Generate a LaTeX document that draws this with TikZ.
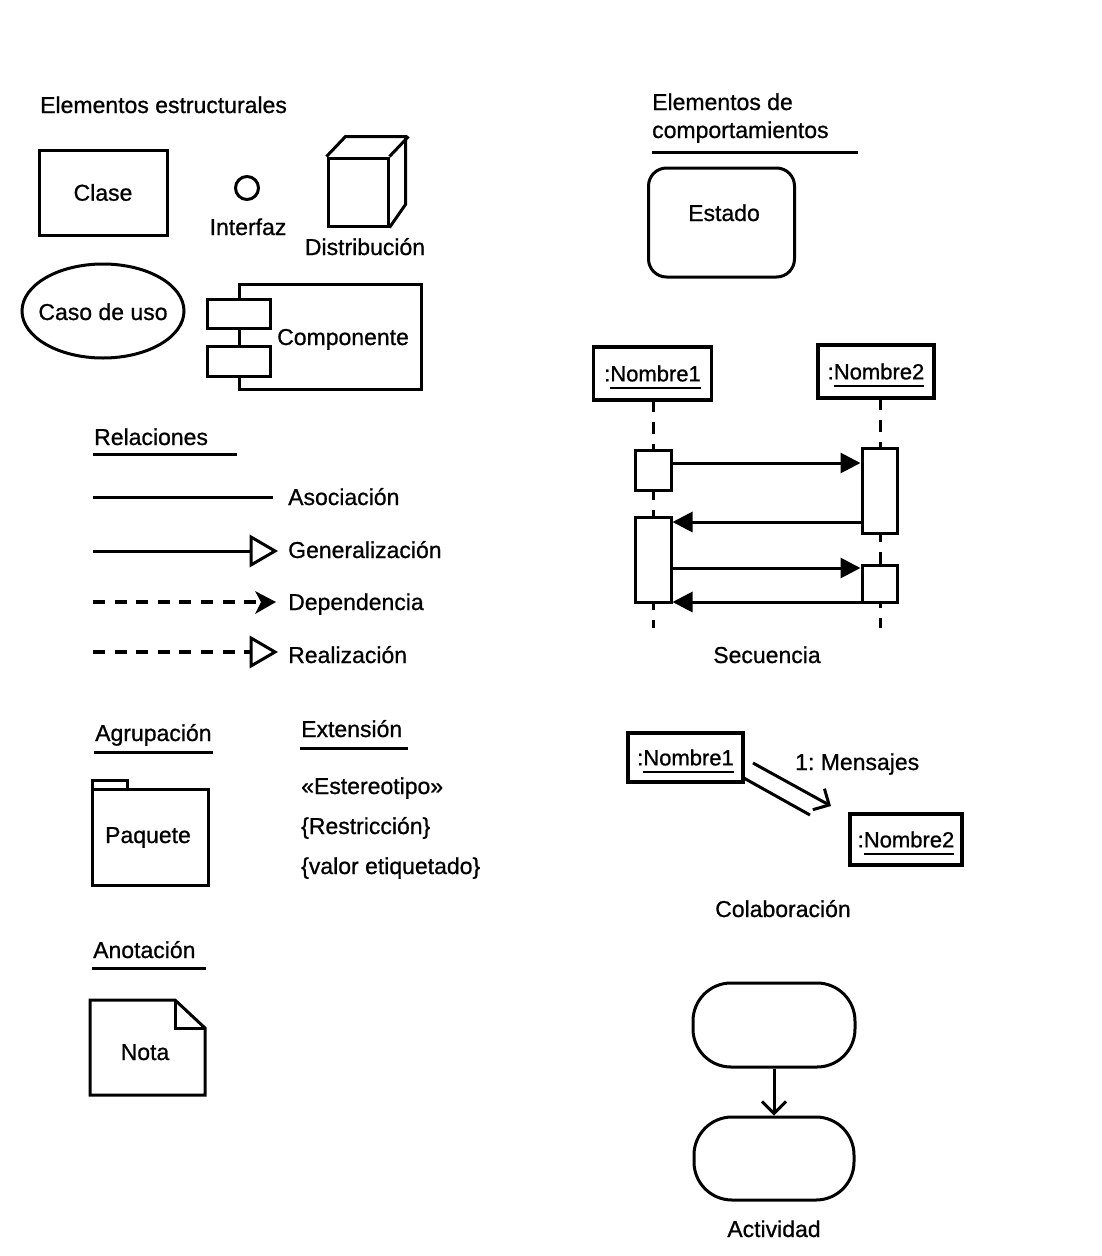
\documentclass[tikz,border=0pt]{standalone}
\usepackage{fontspec}
\setmainfont[FakeBold=0.8]{Liberation Sans}
\usetikzlibrary{arrows.meta,shapes.geometric,calc}
\newsavebox{\ulbox}
\newcommand{\ulx}[1]{\sbox\ulbox{#1}\rlap{\smash{\rule[-8pt]{\wd\ulbox}{2pt}}}\usebox\ulbox}
\frenchspacing
\begin{document}
\begin{tikzpicture}[x=1pt,y=-1pt,
  every node/.style={font=\fontsize{23}{27}\selectfont, inner sep=0pt},
  shp/.style={draw, line width=3pt, fill=white},
  lbl/.style={anchor=base west},
  clbl/.style={anchor=base},
  hline/.style={line width=3pt},
  dsh/.style={line width=3.5pt, dash pattern=on 12pt off 9.6pt},
  life/.style={line width=3pt, dash pattern=on 12pt off 10pt},
  msg/.style={line width=3pt, -{Triangle[length=20pt,width=20pt]}},
  stick/.style={line width=3pt, -{Straight Barb[length=12pt,width=24pt,line width=3pt]}},
  objst/.style={draw, line width=3.5pt, fill=white, font=\fontsize{22}{26}\selectfont},
]
\useasboundingbox[fill=white] (0,0) rectangle (1101,1256);

% ---------- Elementos estructurales ----------
\node[lbl] (t1) at (40,113) {Elementos estructurales};
\node[shp, minimum width=128pt, minimum height=85pt] (clase) at (103,192.5) {Clase};
\node[circle, draw, line width=3pt, minimum size=23pt] (ifz) at (247,188) {};
\node[clbl] (ifzt) at (248,235) {Interfaz};
\node[shp, minimum width=60pt, minimum height=68pt] (dist) at (358,192) {};
\draw[line width=3pt, line join=miter] (dist.north west) -- ++(19,-20) -- ++(60,0) -- ++(0,68) -- (dist.south east);
\draw[line width=3pt] (dist.north east) -- ++(19,-20);
\node[clbl] (distt) at (365,255) {Distribución};
\node[ellipse, draw, line width=3pt, minimum width=162pt, minimum height=94pt] (caso) at (103,311) {};
\node[clbl] (casot) at (103,320) {Caso de uso};
\node[shp, minimum width=182pt, minimum height=105pt] (comp) at (330,336.5) {};
\node[shp, minimum width=63pt, minimum height=29pt] (cp1) at (238.5,313.5) {};
\node[shp, minimum width=63pt, minimum height=30pt] (cp2) at (238.5,361) {};
\node[lbl] (compt) at (277,345) {Componente};

% ---------- Relaciones ----------
\node[lbl] (rel) at (94,445) {Relaciones};
\draw[hline] (93,454) -- (237,454);
\draw[hline] (93,497) -- (273,497);
\node[lbl] (aso) at (288,505) {Asociación};
\draw[hline] (93,551) -- (251,551);
\draw[line width=3pt, line join=miter, fill=white] (251,537) -- (275,551) -- (251,565) -- cycle;
\node[lbl] (gen) at (288,558) {Generalización};
\draw[dsh] (93,602) -- (260,602);
\fill (255,591) -- (276,602) -- (255,614) -- (261,602) -- cycle;
\node[lbl] (dep) at (288,610) {Dependencia};
\draw[dsh] (93,652) -- (251,652);
\draw[line width=3pt, line join=miter, fill=white] (251,638) -- (275,652) -- (251,666) -- cycle;
\node[lbl] (rea) at (288,663) {Realización};

% ---------- Agrupacion / Extension ----------
\node[lbl] (agr) at (95,741) {Agrupación};
\draw[hline] (94,752) -- (213,752);
\draw[line width=3pt, fill=white] (92,780) rectangle (127,789);
\node[shp, minimum width=116pt, minimum height=96pt] (paq) at (150,837) {};
\node[clbl] (paqt) at (148,843) {Paquete};
\node[lbl] (ext) at (301,737) {Extensión};
\draw[hline] (300,748) -- (408,748);
\node[lbl] (est) at (301,794) {«Estereotipo»};
\node[lbl] (res) at (301,834) {\{Restricción\}};
\node[lbl] (val) at (301,874) {\{valor etiquetado\}};

% ---------- Anotacion ----------
\node[lbl] (ano) at (93,958) {Anotación};
\draw[hline] (92,968) -- (206,968);
\draw[line width=3pt, line join=miter] (90,1000) -- (175,1000) -- (205,1028) -- (205,1095) -- (90,1095) -- cycle;
\draw[line width=3pt, line join=miter] (175,1000) -- (175,1028) -- (205,1028);
\node[clbl] (nota) at (145,1060) {Nota};

% ---------- Elementos de comportamientos ----------
\node[lbl] (t2a) at (652,110) {Elementos de};
\node[lbl] (t2b) at (652,138) {comportamientos};
\draw[hline] (652,152) -- (858,152);
\node[shp, rounded corners=18pt, minimum width=146pt, minimum height=109pt] (estado) at (721.5,222.5) {};
\node[clbl] (estt) at (724,221) {Estado};

% ---------- Secuencia ----------
\node[objst, minimum width=118pt, minimum height=53pt] (n1) at (652.5,373.5) {:\ulx{Nombre1}};
\node[objst, minimum width=116pt, minimum height=53pt] (n2) at (876,371.5) {:\ulx{Nombre2}};
\coordinate (b1) at (653,628);
\coordinate (b2) at (880,628);
\draw[life] (653,400) -- (b1);
\draw[life] (880,398) -- (b2);
\node[shp, minimum width=36pt, minimum height=40pt] (a1) at (653,470) {};
\node[shp, minimum width=35pt, minimum height=85pt] (a2) at (879.5,490.5) {};
\node[shp, minimum width=36pt, minimum height=85pt] (a3) at (653,559.5) {};
\node[shp, minimum width=35pt, minimum height=37pt] (a4) at (879.5,583.5) {};
\coordinate (m1) at (0,463);
\coordinate (m2) at (0,522);
\coordinate (m3) at (0,568);
\coordinate (m4) at (0,602);
\draw[msg] (a1.east |- m1) -- (a2.west |- m1);
\draw[msg] (a2.west |- m2) -- (a3.east |- m2);
\draw[msg] (a3.east |- m3) -- (a4.west |- m3);
\draw[msg] (a4.west |- m4) -- (a3.east |- m4);
\node[clbl] (sec) at (767,663) {Secuencia};

% ---------- Colaboracion ----------
\node[objst, minimum width=115pt, minimum height=49pt] (c1) at (685.5,757.5) {:\ulx{Nombre1}};
\node[objst, minimum width=112pt, minimum height=51pt] (c2) at (906,839.5) {:\ulx{Nombre2}};
\coordinate (lkA) at (742,777);
\coordinate (lkB) at (810,815);
\draw[line width=3pt] (lkA) -- (lkB);
\coordinate (mA) at (753,763);
\coordinate (mB) at (831,806);
\draw[stick] (mA) -- (mB);
\node[lbl] (men) at (795,770) {1: Mensajes};
\node[clbl] (col) at (783,917) {Colaboración};

% ---------- Actividad ----------
\node[shp, rounded corners=38pt, minimum width=162pt, minimum height=84pt] (act1) at (774,1025) {};
\node[shp, rounded corners=38pt, minimum width=160pt, minimum height=83pt] (act2) at (774,1158.5) {};
\draw[stick] (act1) -- (act2);
\node[clbl] (actt) at (774,1237) {Actividad};
\end{tikzpicture}
\end{document}
